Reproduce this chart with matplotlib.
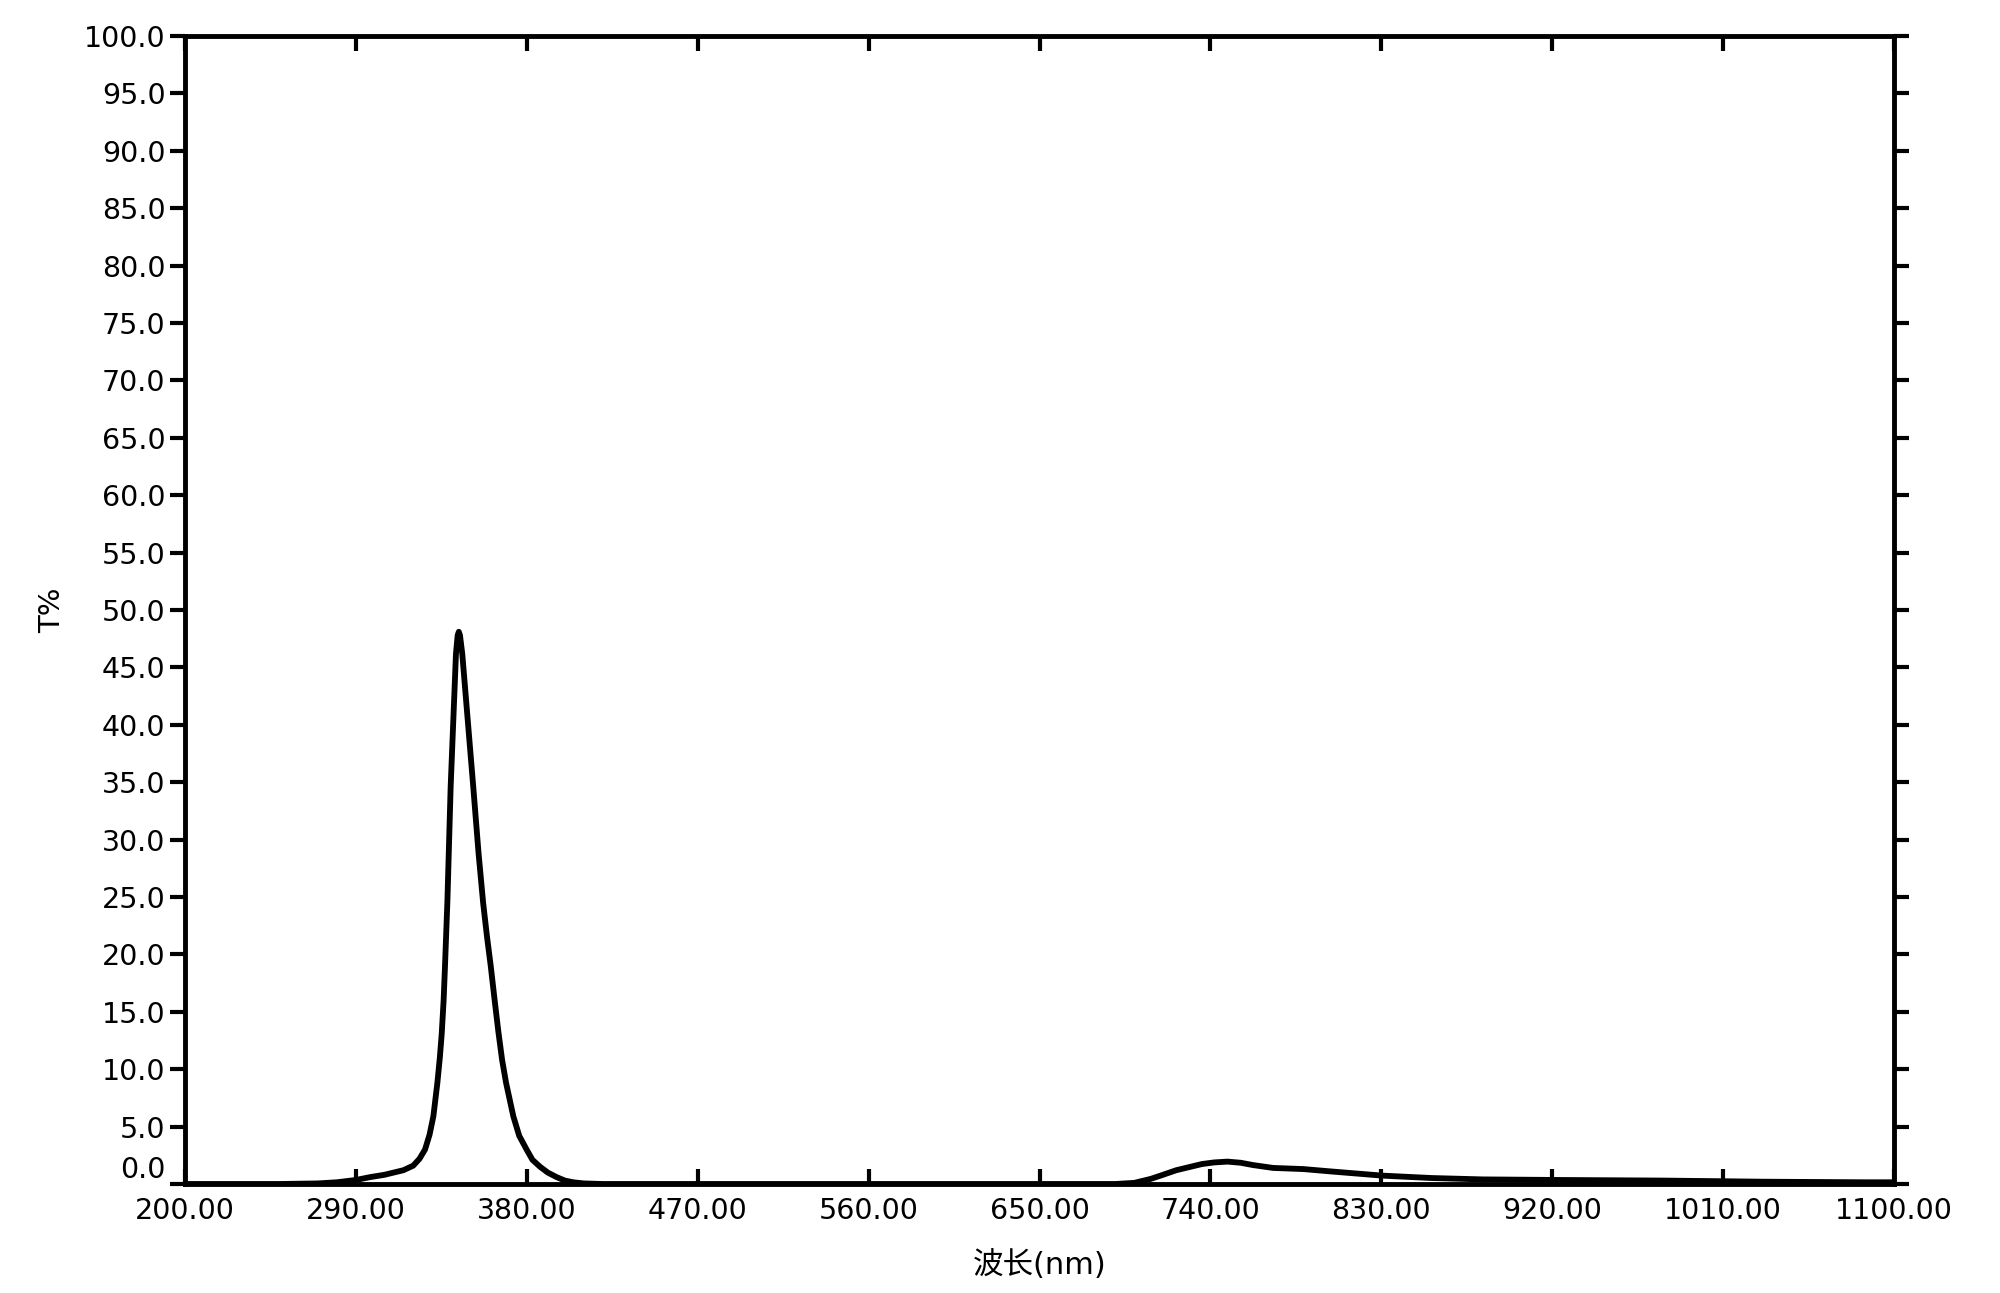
import matplotlib
matplotlib.use("Agg")
from matplotlib import pyplot as plt
from matplotlib.ticker import FormatStrFormatter
from matplotlib.transforms import ScaledTranslation

plt.rcParams["font.family"] = ["DejaVu Sans", "Noto Sans CJK SC"]

# transmission spectrum
wavelength = [200, 250, 270, 280, 290, 297.5, 305, 310, 315, 320.2, 323.5,
              326.4, 328.8, 330.8, 332.9, 334.2, 335.2, 336.2, 336.9, 338.2,
              338.9, 339.9, 341.3, 342.7, 343.6, 344.2, 344.8, 346.0, 348.9,
              351.8, 354.6, 357.0, 359.0, 361.0, 363.0, 365.0, 367.0, 369.1,
              372.9, 376, 379.9, 383, 387.0, 391, 395.7, 400, 404.4, 410, 420,
              500, 600, 690, 700, 708.7, 715, 722, 735.6, 742, 749, 756, 762.4,
              773, 789, 803, 830.5, 856.5, 883.5, 923.6, 977, 1031, 1084, 1100]
transmittance = [0, 0, 0.05, 0.15, 0.35, 0.6, 0.8, 1.0, 1.2, 1.6, 2.2,
                 3.0, 4.3, 5.9, 8.8, 11.0, 13.1, 16.0, 18.9, 24.7,
                 28.8, 34.6, 40.4, 46.2, 47.8, 48.1, 47.8, 46.2, 40.4,
                 34.6, 28.8, 24.5, 21.6, 19.0, 16.1, 13.3, 10.8, 8.8,
                 5.9, 4.2, 3.0, 2.1, 1.5, 1.0, 0.6, 0.3, 0.15, 0.05, 0,
                 0, 0, 0, 0.1, 0.45, 0.8, 1.2, 1.74, 1.88, 1.95, 1.85, 1.65,
                 1.4, 1.3, 1.1, 0.73, 0.52, 0.4, 0.35, 0.3, 0.2, 0.15, 0.15]

x_ticks = [200, 290, 380, 470, 560, 650, 740, 830, 920, 1010, 1100]
y_ticks = [0, 5, 10, 15, 20, 25, 30, 35, 40, 45, 50,
           55, 60, 65, 70, 75, 80, 85, 90, 95, 100]

fig = plt.figure(figsize=(20, 12.93), dpi=100)
ax = fig.add_axes([0.0925, 0.0843, 0.8545, 0.8879])

ax.plot(wavelength, transmittance, color="black", linewidth=4.2,
        solid_joinstyle="round", solid_capstyle="round")

ax.set_xlim(200, 1100)
ax.set_ylim(0, 100)
ax.set_xticks(x_ticks)
ax.set_yticks(y_ticks)
ax.xaxis.set_major_formatter(FormatStrFormatter("%.2f"))
ax.yaxis.set_major_formatter(FormatStrFormatter("%.1f"))

for spine in ax.spines.values():
    spine.set_linewidth(3.5)

ax.tick_params(axis="x", direction="in", top=True, bottom=True,
               length=11, width=3, pad=9, labelsize=20.5)
ax.tick_params(axis="y", direction="out", left=True, right=True,
               length=11, width=3, pad=3, labelsize=20.5)

# the 0.0 label sits a little above the baseline in the original
zero = ax.yaxis.get_major_ticks()[0]
zero.label1.set_transform(zero.label1.get_transform() +
                          ScaledTranslation(0, 12 / 72, fig.dpi_scale_trans))

ax.set_xlabel("波长(nm)", fontsize=22, va="center")
ax.xaxis.set_label_coords(0.5, -0.0706)
ax.set_ylabel("T%", fontsize=21, va="center")
ax.yaxis.set_label_coords(-0.078, 0.5)

fig.savefig("out.png", dpi=100, facecolor="white")
